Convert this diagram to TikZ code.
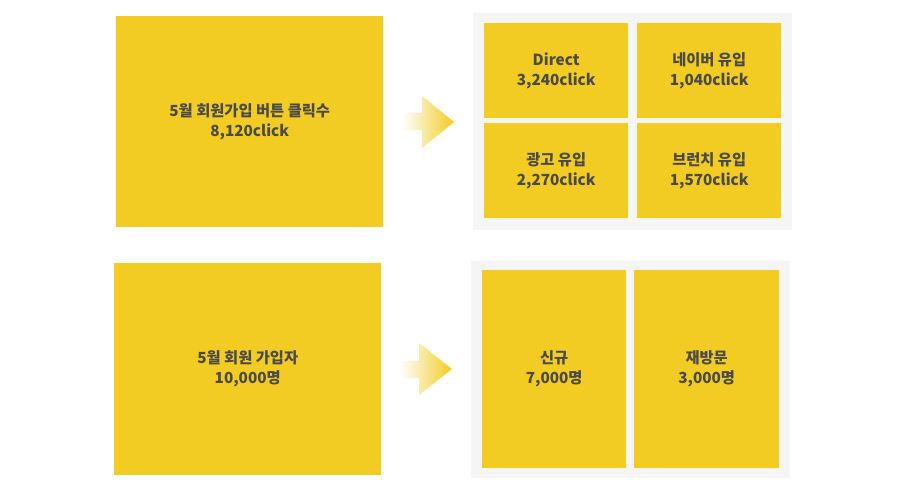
\documentclass[tikz,border=0pt]{standalone}
\usepackage{fontspec}
\setmainfont{Noto Sans CJK KR}
\usetikzlibrary{positioning}
\definecolor{boxyellow}{HTML}{F2CC22}
\definecolor{panelgray}{HTML}{F5F5F5}
\definecolor{txtgray}{HTML}{4A4A4A}
\tikzset{
  ybox/.style={fill=boxyellow, draw=none, inner sep=0pt, anchor=north west,
    text=txtgray, align=center, font=\fontsize{15.3}{20}\selectfont\bfseries},
  panel/.style={fill=panelgray, draw=none},
  garrow/.style={left color=white, right color=boxyellow, draw=none},
}
\begin{document}
\begin{tikzpicture}[x=1pt,y=-1pt]
\useasboundingbox (0,0) rectangle (903,501);
% top row
\node[ybox, minimum width=267pt, minimum height=211pt] (clicks) at (116,16) {5월 회원가입 버튼 클릭수\\8,120click};
\fill[panel] (473,13) rectangle (792,230);
\node[ybox, minimum width=144pt, minimum height=95pt] (direct) at (484,23) {Direct\\3,240click};
\node[ybox, minimum width=144pt, minimum height=95pt] (naver) at (637,23) {네이버 유입\\1,040click};
\node[ybox, minimum width=144pt, minimum height=95pt] (ad) at (484,123) {광고 유입\\2,270click};
\node[ybox, minimum width=144pt, minimum height=95pt] (branch) at (637,123) {브런치 유입\\1,570click};
\shade[garrow] (402,113) -- (422,113) -- (422,96) -- (454,122) -- (422,148) -- (422,130) -- (402,130) -- cycle;
% bottom row
\node[ybox, minimum width=267pt, minimum height=212pt] (members) at (114,263) {5월 회원 가입자\\10,000명};
\fill[panel] (471,261) rectangle (790,478);
\node[ybox, minimum width=144pt, minimum height=198pt] (newm) at (482,270) {신규\\7,000명};
\node[ybox, minimum width=145pt, minimum height=198pt] (revisit) at (634,270) {재방문\\3,000명};
\shade[garrow] (400,361) -- (419,361) -- (419,343) -- (452,369) -- (419,395) -- (419,378) -- (400,378) -- cycle;
\end{tikzpicture}
\end{document}
